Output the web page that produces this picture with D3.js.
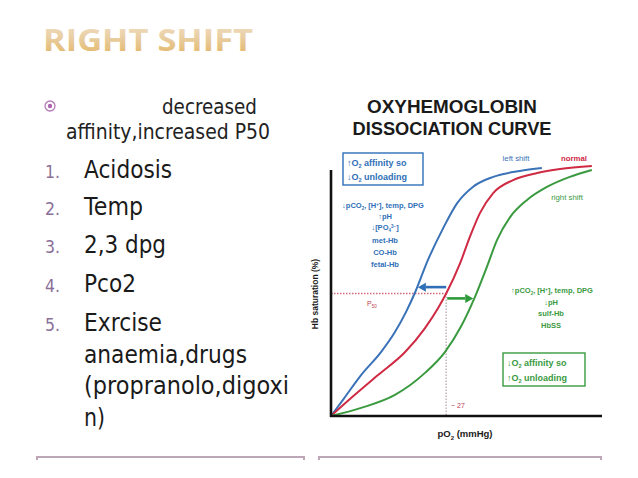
<!DOCTYPE html>
<html><head><meta charset="utf-8">
<script src="https://cdn.jsdelivr.net/npm/d3@7"></script>
<style>body{margin:0;background:#fff;overflow:hidden}</style>
</head><body>
<svg id="c" width="638" height="478"></svg>
<script>
// ---------- data ----------
const seriesNames = ["left shift", "normal", "right shift"];
const pO2Left   = [0, 3.0, 7.1, 11.8, 15.1, 17.7, 19.8, 22.9, 26.5, 29.8, 33.5, 38.3, 44.6, 49.8];
const satLeft   = [0, 7.0, 16.7, 26.1, 34.3, 42.4, 50.2, 63.7, 76.7, 86.9, 93.5, 97.6, 100, 101.2];
const pO2Normal = [0, 4.2, 11.1, 17.5, 22.2, 25.3, 27.2, 30.5, 32.8, 35.2, 38.3, 43.0, 48.7, 54.1, 61.6];
const satNormal = [0, 6.5, 16.7, 26.1, 35.9, 44.1, 50, 62.4, 73.1, 82.9, 91.0, 96.3, 99.2, 100.8, 102];
const pO2Right  = [0, 7.1, 15.1, 22.2, 26.9, 30.7, 34.0, 36.8, 39.2, 42.3, 46.3, 51.0, 56.4, 61.6];
const satRight  = [0, 3.3, 8.6, 17.6, 26.1, 36.5, 48.6, 60.8, 71.8, 81.2, 88.2, 93.5, 97.6, 100.4];
const p50Normal = 27.2, p50Left = 20.4, p50Right = 33.6, p50Sat = 50;
const arrowSatLeft = 52.6, arrowSatRight = 48.0;

const slideTitle = "RIGHT SHIFT";
const introLines = ["decreased", "affinity,increased P50"];
const listNumbers = ["1.", "2.", "3.", "4.", "5."];
const listLines = [["Acidosis"], ["Temp"], ["2,3 dpg"], ["Pco2"],
  ["Exrcise", "anaemia,drugs", "(propranolo,digoxi", "n)"]];

const svg = d3.select("#c");
const defs = svg.append("defs");

// ---------- left side text ----------
const grad = defs.append("linearGradient").attr("id", "gold").attr("x1", 0).attr("y1", 0).attr("x2", 0).attr("y2", 1);
grad.append("stop").attr("offset", "0%").attr("stop-color", "#f2e2cc");
grad.append("stop").attr("offset", "45%").attr("stop-color", "#e9cfa4");
grad.append("stop").attr("offset", "100%").attr("stop-color", "#e2b058");

svg.append("text").attr("x", 43).attr("y", 51)
  .attr("font-family", "'Open Sans', sans-serif").attr("font-weight", "bold").attr("font-size", 31)
  .attr("textLength", 210).attr("lengthAdjust", "spacingAndGlyphs")
  .attr("fill", "url(#gold)").text(slideTitle);

// bullet
svg.append("circle").attr("cx", 50).attr("cy", 106).attr("r", 5).attr("fill", "none").attr("stroke", "#b77ab8").attr("stroke-width", 1.3);
svg.append("circle").attr("cx", 50).attr("cy", 106).attr("r", 2.2).attr("fill", "#b064b0");

const bodyFont = "'DejaVu Sans', sans-serif";
const introPos = [{x: 162, y: 114, w: 95}, {x: 66, y: 139, w: 204}];
introLines.forEach((t, i) => {
  svg.append("text").attr("x", introPos[i].x).attr("y", introPos[i].y)
    .attr("font-family", bodyFont).attr("font-size", 21).attr("fill", "#222")
    .attr("textLength", introPos[i].w).attr("lengthAdjust", "spacingAndGlyphs").text(t);
});

const itemBase = [178, 215, 253, 292, 331];
const subBase = [331, 363, 394, 426];
const widths = [[88], [59], [82], [52], [78, 163, 205, 21]];
listNumbers.forEach((n, i) => {
  svg.append("text").attr("x", 45).attr("y", itemBase[i])
    .attr("font-family", bodyFont).attr("font-size", 18).attr("fill", "#8a6f98")
    .attr("textLength", 15).attr("lengthAdjust", "spacingAndGlyphs").text(n);
  listLines[i].forEach((t, j) => {
    const y = listLines[i].length > 1 ? subBase[j] : itemBase[i];
    svg.append("text").attr("x", 84).attr("y", y)
      .attr("font-family", bodyFont).attr("font-size", 24).attr("fill", "#1a1a1a")
      .attr("textLength", widths[i][j]).attr("lengthAdjust", "spacingAndGlyphs").text(t);
  });
});

// bottom separator lines
[[37, 304], [319, 601]].forEach(([a, b]) => {
  svg.append("path").attr("d", `M${a},460 L${a},457 L${b},457 L${b},460`)
    .attr("fill", "none").attr("stroke", "#bda6b6").attr("stroke-width", 2);
});

// ---------- chart ----------
const cf = "'Liberation Sans', Arial, sans-serif";
svg.append("text").attr("x", 452).attr("y", 113).attr("text-anchor", "middle")
  .attr("font-family", cf).attr("font-weight", "bold").attr("font-size", 18).attr("fill", "#1a1a1a")
  .attr("textLength", 170).attr("lengthAdjust", "spacingAndGlyphs").text("OXYHEMOGLOBIN");
svg.append("text").attr("x", 452).attr("y", 135).attr("text-anchor", "middle")
  .attr("font-family", cf).attr("font-weight", "bold").attr("font-size", 18).attr("fill", "#1a1a1a")
  .attr("textLength", 199).attr("lengthAdjust", "spacingAndGlyphs").text("DISSOCIATION CURVE");

const x = d3.scaleLinear().domain([0, 64]).range([331, 602]);
const y = d3.scaleLinear().domain([0, 100]).range([416, 171]);

// P50 guides
svg.append("line").attr("x1", x(0)).attr("x2", x(p50Normal)).attr("y1", y(p50Sat)).attr("y2", y(p50Sat))
  .attr("stroke", "#d46a7c").attr("stroke-width", 1.3).attr("stroke-dasharray", "1.5,1.5");
svg.append("line").attr("x1", x(p50Normal)).attr("x2", x(p50Normal)).attr("y1", y(p50Sat)).attr("y2", y(0))
  .attr("stroke", "#b9a9b4").attr("stroke-width", 1.3).attr("stroke-dasharray", "1.5,1.5");
svg.append("text").attr("x", 367).attr("y", 306).attr("font-family", cf).attr("font-size", 7).attr("fill", "#c0404f")
  .html('P<tspan font-size="4.5" dy="2">50</tspan>');
svg.append("text").attr("x", 451).attr("y", 408).attr("font-family", cf).attr("font-size", 7).attr("fill", "#c0404f")
  .text("~ 27");

// curves
const colors = ["#3a72b8", "#cf2a43", "#3a9a3f"];
const xs = [pO2Left, pO2Normal, pO2Right], ys = [satLeft, satNormal, satRight];
const line = d3.line().x(d => x(d[0])).y(d => y(d[1])).curve(d3.curveMonotoneX);
seriesNames.forEach((name, i) => {
  svg.append("path").datum(d3.zip(xs[i], ys[i])).attr("d", line)
    .attr("fill", "none").attr("stroke", colors[i]).attr("stroke-width", 2);
});

// axes
const gx = svg.append("g").attr("transform", `translate(0,${y(0)})`).call(d3.axisBottom(x).ticks(0).tickSizeOuter(0));
const gy = svg.append("g").attr("transform", `translate(${x(0)},0)`).call(d3.axisLeft(y).ticks(0).tickSizeOuter(0));
gy.select(".domain").attr("d", `M0,${y(0) + 1}V170`);
gx.select(".domain").attr("d", `M${x(0) - 1},0H602`);
[gx, gy].forEach(g => g.select(".domain").attr("stroke", "#111").attr("stroke-width", 2.6));

// arrows
function arrow(x1, x2, yy, col) {
  const dir = Math.sign(x2 - x1), head = 8;
  svg.append("line").attr("x1", x1).attr("x2", x2 - dir * head).attr("y1", yy).attr("y2", yy)
    .attr("stroke", col).attr("stroke-width", 2.6);
  svg.append("path").attr("d", `M${x2},${yy} L${x2 - dir * head},${yy - 4.5} L${x2 - dir * head},${yy + 4.5}Z`).attr("fill", col);
}
arrow(x(p50Normal), x(p50Left) + 0.5, y(arrowSatLeft), "#2f6fb8");
arrow(x(p50Normal) + 1, x(p50Right), y(arrowSatRight), "#2f9a3a");

// series labels
svg.append("text").attr("x", 516).attr("y", 161).attr("text-anchor", "middle").attr("font-family", cf)
  .attr("font-size", 7.8).attr("fill", "#3a72b8").text("left shift");
svg.append("text").attr("x", 574).attr("y", 161).attr("text-anchor", "middle").attr("font-family", cf)
  .attr("font-weight", "bold").attr("font-size", 7.8).attr("fill", "#cf2a43").text("normal");
svg.append("text").attr("x", 567).attr("y", 200).attr("text-anchor", "middle").attr("font-family", cf)
  .attr("font-size", 7.8).attr("fill", "#3a9a3f").text("right shift");

// blue box
const blue = "#2f6fb8", green = "#3a9a3f";
svg.append("rect").attr("x", 343).attr("y", 153).attr("width", 80).attr("height", 32)
  .attr("fill", "#fff").attr("stroke", blue).attr("stroke-width", 1.4);
function boxText(xx, yy, arrowCh, rest, col) {
  svg.append("text").attr("x", xx).attr("y", yy).attr("font-family", cf).attr("font-weight", "bold")
    .attr("font-size", 9).attr("fill", col)
    .html(`${arrowCh}O<tspan font-size="5.5" dy="2">2</tspan><tspan dy="-2"> ${rest}</tspan>`);
}
boxText(347, 166, "↑", "affinity so", blue);
boxText(347, 180, "↓", "unloading", blue);

// blue factor list
function smallText(xx, yy, html, col) {
  svg.append("text").attr("x", xx).attr("y", yy).attr("text-anchor", "middle").attr("font-family", cf)
    .attr("font-weight", "bold").attr("font-size", 7.5).attr("fill", col).html(html);
}
smallText(383, 208, '↓pCO<tspan font-size="4.5" dy="1.5">2</tspan><tspan dy="-1.5">, [H</tspan><tspan font-size="4.5" dy="-2.5">+</tspan><tspan dy="2.5">], temp, DPG</tspan>', blue);
smallText(385, 219, '↑pH', blue);
smallText(385, 230, '↓[PO<tspan font-size="4.5" dy="1.5">4</tspan><tspan font-size="4.5" dy="-4">3−</tspan><tspan dy="2.5">]</tspan>', blue);
smallText(385, 243, 'met-Hb', blue);
smallText(385, 255, 'CO-Hb', blue);
smallText(385, 267, 'fetal-Hb', blue);

// green factor list
smallText(552, 293, '↑pCO<tspan font-size="4.5" dy="1.5">2</tspan><tspan dy="-1.5">, [H</tspan><tspan font-size="4.5" dy="-2.5">+</tspan><tspan dy="2.5">], temp, DPG</tspan>', green);
smallText(551, 305, '↓pH', green);
smallText(551, 316, 'sulf-Hb', green);
smallText(551, 328, 'HbSS', green);

// green box
svg.append("rect").attr("x", 503).attr("y", 353).attr("width", 82).attr("height", 33)
  .attr("fill", "#fff").attr("stroke", green).attr("stroke-width", 1.4);
boxText(507, 366, "↓", "affinity so", green);
boxText(507, 381, "↑", "unloading", green);

// axis labels
svg.append("text").attr("transform", "translate(318,294) rotate(-90)").attr("text-anchor", "middle")
  .attr("font-family", cf).attr("font-weight", "bold").attr("font-size", 8.5).attr("fill", "#1a1a1a")
  .text("Hb saturation (%)");
svg.append("text").attr("x", 465).attr("y", 437).attr("text-anchor", "middle").attr("font-family", cf)
  .attr("font-weight", "bold").attr("font-size", 9.5).attr("fill", "#1a1a1a")
  .html('pO<tspan font-size="6" dy="2.5">2</tspan><tspan dy="-2.5"> (mmHg)</tspan>');
</script>
</body></html>
